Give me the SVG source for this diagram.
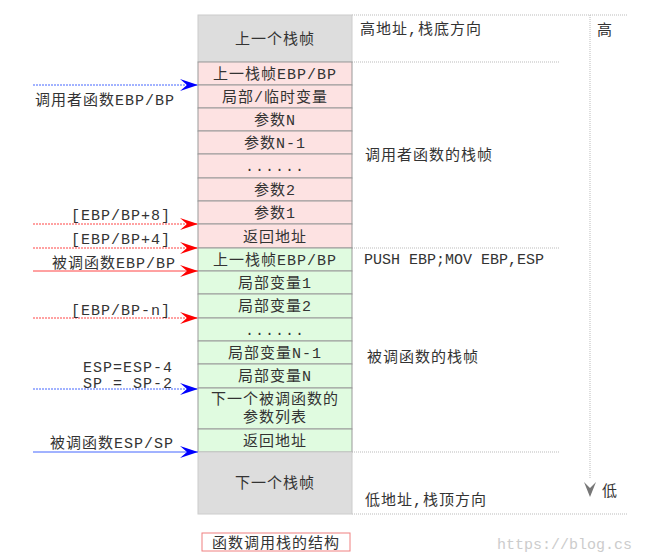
<svg xmlns="http://www.w3.org/2000/svg" width="645" height="553" viewBox="0 0 645 553">
<style>
text{font-family:"Liberation Mono","Noto Sans CJK SC",monospace;font-size:15px;fill:#333;letter-spacing:1px}
.c{text-anchor:middle}
.r{text-anchor:end}
.p{fill:#fde2e2;stroke:#999;stroke-width:1}
.g{fill:#e0fbe0;stroke:#999;stroke-width:1}
.k{fill:#dddddd;stroke:#ccc;stroke-width:1}
.d{stroke:#bbb;stroke-width:1;stroke-dasharray:1 1;fill:none}
.bl{stroke:#4466ff;stroke-width:1;fill:none}
.rd{stroke:#ff4444;stroke-width:1;fill:none}
.dot{stroke-dasharray:2 1}
</style>
<defs>
<marker id="ab" markerWidth="20" markerHeight="12" refX="18" refY="6" orient="auto" markerUnits="userSpaceOnUse"><path d="M0,0 L18,6 L0,12 L7,6 Z" fill="#0000ff"/></marker>
<marker id="ar" markerWidth="20" markerHeight="12" refX="18" refY="6" orient="auto" markerUnits="userSpaceOnUse"><path d="M0,0 L18,6 L0,12 L7,6 Z" fill="#ff0000"/></marker>
</defs>
<g id="guides">
<path class="d" d="M352,15H628M352,62H560M352,248H560M352,452H560M352,514H628M590,15V478"/>
<path d="M584,482 L590,497 L596,482 L590,488 Z" fill="#777"/>
</g>
<g id="n-prev"><rect class="k" x="198" y="15" width="154" height="47"/><text class="c" x="275" y="44">上一个栈帧</text></g>
<g id="n-p1"><rect class="p" x="198" y="62" width="154" height="23"/><text class="c" x="275" y="79">上一栈帧EBP/BP</text></g>
<g id="n-p2"><rect class="p" x="198" y="85" width="154" height="23"/><text class="c" x="275" y="102">局部/临时变量</text></g>
<g id="n-p3"><rect class="p" x="198" y="108" width="154" height="23"/><text class="c" x="275" y="125">参数N</text></g>
<g id="n-p4"><rect class="p" x="198" y="131" width="154" height="23"/><text class="c" x="275" y="148">参数N-1</text></g>
<g id="n-p5"><rect class="p" x="198" y="154" width="154" height="24"/><text class="c" x="275" y="171">......</text></g>
<g id="n-p6"><rect class="p" x="198" y="178" width="154" height="23"/><text class="c" x="275" y="195">参数2</text></g>
<g id="n-p7"><rect class="p" x="198" y="201" width="154" height="23"/><text class="c" x="275" y="218">参数1</text></g>
<g id="n-p8"><rect class="p" x="198" y="224" width="154" height="24"/><text class="c" x="275" y="242">返回地址</text></g>
<g id="n-g1"><rect class="g" x="198" y="248" width="154" height="23"/><text class="c" x="275" y="265">上一栈帧EBP/BP</text></g>
<g id="n-g2"><rect class="g" x="198" y="271" width="154" height="23"/><text class="c" x="275" y="288">局部变量1</text></g>
<g id="n-g3"><rect class="g" x="198" y="294" width="154" height="24"/><text class="c" x="275" y="311">局部变量2</text></g>
<g id="n-g4"><rect class="g" x="198" y="318" width="154" height="23"/><text class="c" x="275" y="335">......</text></g>
<g id="n-g5"><rect class="g" x="198" y="341" width="154" height="23"/><text class="c" x="275" y="358">局部变量N-1</text></g>
<g id="n-g6"><rect class="g" x="198" y="364" width="154" height="24"/><text class="c" x="275" y="381">局部变量N</text></g>
<g id="n-g7"><rect class="g" x="198" y="388" width="154" height="41"/><text class="c" x="275" y="404">下一个被调函数的</text><text class="c" x="275" y="422">参数列表</text></g>
<g id="n-g8"><rect class="g" x="198" y="429" width="154" height="23"/><text class="c" x="275" y="446">返回地址</text></g>
<g id="n-next"><rect class="k" x="198" y="452" width="154" height="62"/><text class="c" x="275" y="488">下一个栈帧</text></g>
<g id="caption"><rect x="202" y="533" width="148" height="18" fill="none" stroke="#f08080"/><text class="c" x="276" y="548">函数调用栈的结构</text></g>
<g id="connectors">
<path class="bl dot" d="M33,85H198" marker-end="url(#ab)"/>
<path class="rd dot" d="M33,224H198" marker-end="url(#ar)"/>
<path class="rd dot" d="M33,248H198" marker-end="url(#ar)"/>
<path class="rd" d="M33,271H198" marker-end="url(#ar)"/>
<path class="rd dot" d="M33,318H198" marker-end="url(#ar)"/>
<path class="bl dot" d="M33,389H198" marker-end="url(#ab)"/>
<path class="bl" d="M33,452H198" marker-end="url(#ab)"/>
</g>
<g id="labels">
<text x="35" y="105">调用者函数EBP/BP</text>
<text class="r" x="171" y="220">[EBP/BP+8]</text>
<text class="r" x="171" y="244">[EBP/BP+4]</text>
<text class="r" x="176" y="268">被调函数EBP/BP</text>
<text class="r" x="171" y="315">[EBP/BP-n]</text>
<text x="83" y="372">ESP=ESP-4</text>
<text x="83" y="388">SP = SP-2</text>
<text class="r" x="174" y="448">被调函数ESP/SP</text>
<text x="360" y="34">高地址,栈底方向</text>
<text x="365" y="160">调用者函数的栈帧</text>
<text x="364" y="264" style="letter-spacing:0">PUSH EBP;MOV EBP,ESP</text>
<text x="367" y="362">被调函数的栈帧</text>
<text x="365" y="505">低地址,栈顶方向</text>
<text x="597" y="35">高</text>
<text x="602" y="496">低</text>
<text x="497" y="549" style="fill:#ccc;letter-spacing:0">https://blog.cs</text>
</g>
</svg>
